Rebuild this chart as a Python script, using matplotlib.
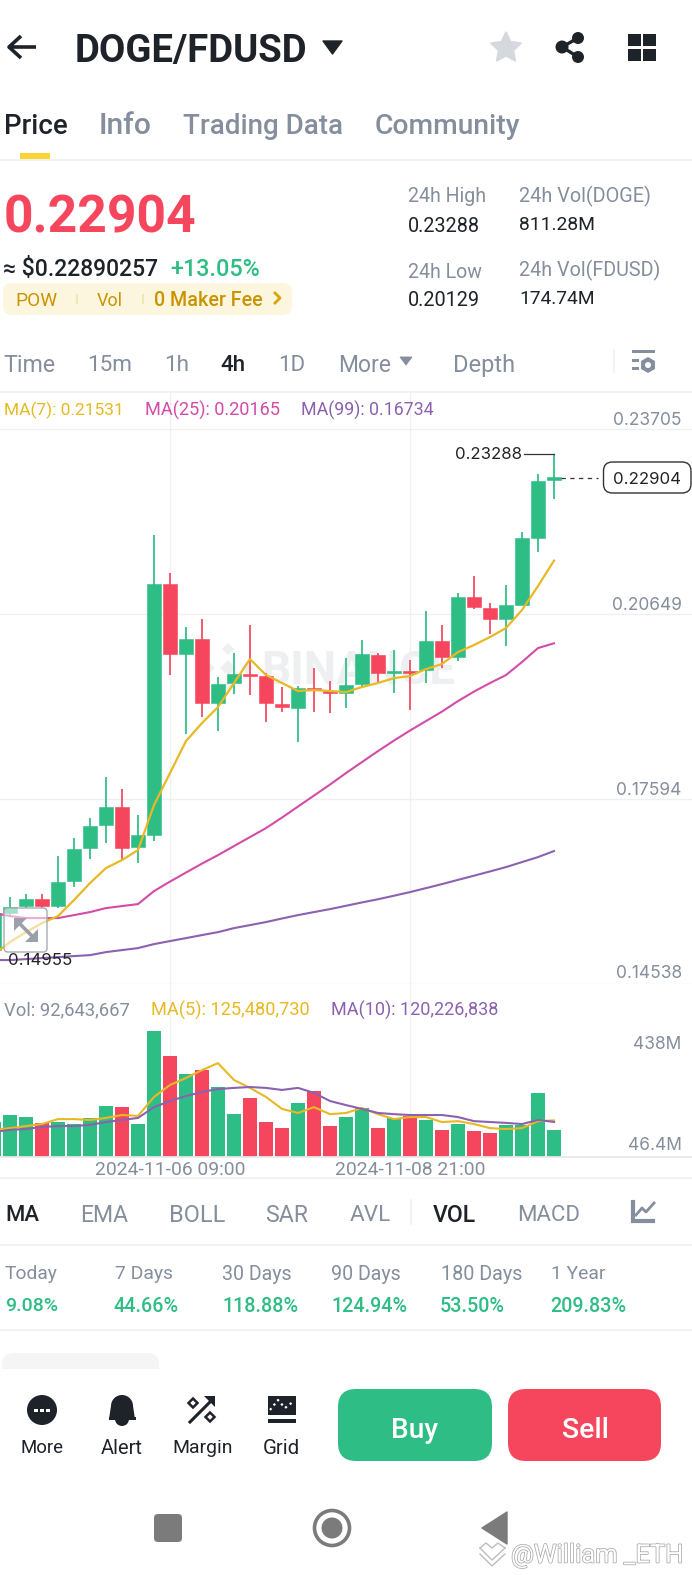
import matplotlib
matplotlib.use("Agg")
import matplotlib.pyplot as plt
import matplotlib.patches as mp
import matplotlib.patheffects as pe
from matplotlib.transforms import ScaledTranslation
import numpy as np

# ---- data ----
index = list(range(-1, 35))
opens = [.15098,.15709,.15825,.15941,.15825,.16238,.16783,.17163,.17460,.16800,.16998,.21144,.19988,.20236,.19178,
         .19509,.19658,.19624,.19162,.19096,.19426,.19377,.19344,.19492,.19971,.19674,.19707,.19724,.20203,.19938,
         .20930,.20748,.20566,.20797,.21904,.22862]
closes = [.15709,.15808,.15941,.15825,.16221,.16767,.17146,.17460,.16783,.16998,.21144,.19988,.20236,.19178,.19492,
          .19658,.19624,.19178,.19112,.19426,.19393,.19344,.19476,.19988,.19674,.19707,.19674,.20203,.19938,.20930,
          .20764,.20566,.20797,.21904,.22846,.22904]
highs = [.15841,.15974,.16023,.16023,.16651,.16948,.17279,.17956,.17758,.17328,.21954,.21326,.20434,.20566,.19608,
         .20004,.20467,.19674,.19443,.19459,.19757,.19542,.19922,.20219,.20004,.20054,.19889,.20698,.20467,.20996,
         .21276,.20830,.21128,.22003,.22962,.23288]
lows = [.14955,.15676,.15792,.15792,.15792,.16139,.16601,.16866,.16585,.16535,.16899,.19641,.18666,.18947,.18716,
        .19327,.19311,.18865,.19030,.18534,.19030,.19013,.19096,.19426,.19525,.19344,.19063,.19509,.19757,.19872,
        .20731,.20318,.20120,.20797,.21673,.22549]
ma7 = [.15032,.15230,.15395,.15544,.15660,.15924,.16205,.16453,.16585,.16750,.17493,.18022,.18551,.18848,.19112,
       .19509,.19905,.19641,.19509,.19377,.19393,.19377,.19360,.19443,.19509,.19591,.19624,.19740,.19823,.20021,
       .20137,.20269,.20417,.20715,.21111,.21531]
ma25 = [.15709,.15660,.15627,.15627,.15627,.15676,.15726,.15792,.15825,.15858,.16073,.16229,.16379,.16527,.16667,
        .16816,.16965,.17113,.17287,.17469,.17650,.17832,.18022,.18204,.18385,.18559,.18724,.18881,.19038,.19211,
        .19368,.19509,.19641,.19856,.20087,.20165]
ma99 = [.14933,.14933,.14949,.14966,.14982,.14999,.15015,.15065,.15098,.15131,.15197,.15247,.15296,.15346,.15395,
        .15461,.15511,.15561,.15620,.15676,.15726,.15775,.15830,.15885,.15938,.15996,.16056,.16122,.16188,.16258,
        .16327,.16397,.16469,.16552,.16634,.16734]
volumes = [120,144,137,117,120,113,134,175,172,113,432,346,285,298,240,147,202,120,99,185,226,106,137,168,99,134,141,
           127,93,113,89,82,110,110,220,92.6]
vol_ma5 = [93,99,106,113,130,130,127,134,144,141,206,247,271,298,322,264,237,206,165,151,171,147,151,168,147,130,137,
           137,120,123,113,99,96,99,123,125.5]
vol_ma10 = [86,93,96,103,106,106,110,120,127,134,171,192,209,223,233,237,240,237,230,237,220,192,178,165,151,147,144,
            144,144,137,123,120,117,113,127,120.2]
price_ticks = [0.23705, 0.20649, 0.17594, 0.14538]
vol_ticks = [438, 46.4]
date_ticks = [10, 25]
date_labels = ["2024-11-06 09:00", "2024-11-08 21:00"]
# -------------------------------------

GREEN, RED = "#2EBD85", "#F6465D"
GRAY, DARK = "#848E9C", "#1E2329"
YEL, PINK, PUR = "#E8B923", "#D24CA8", "#8A62B0"
LINE = "#EEF0F2"
W, H = 692, 1575
plt.rcParams["font.family"] = ["Roboto", "DejaVu Sans"]
fig = plt.figure(figsize=(W / 100, H / 100), dpi=100, facecolor="white")


def box(top, bottom):
    return [0, 1 - bottom / H, 1, (bottom - top) / H]


x_lim = (-0.625, 42.625)
ax = fig.add_axes(box(392, 984), facecolor="none", zorder=2)
vx = fig.add_axes(box(984, 1157), facecolor="none", zorder=2)
ui = fig.add_axes([0, 0, 1, 1], facecolor="none", zorder=5)
ui.set_xlim(0, W)
ui.set_ylim(H, 0)
ui.axis("off")

# ---- price pane
ax.set_xlim(*x_lim)
ax.set_ylim(0.14538, 0.24316)
for s in ax.spines.values():
    s.set_visible(False)
ax.set_axisbelow(True)
ax.grid(True, color=LINE, lw=1.0, zorder=0)
ax.set_xticks(date_ticks)
ax.tick_params(axis="x", length=0, labelbottom=False)
ax.yaxis.tick_right()
ax.set_yticks(price_ticks)
ax.set_yticklabels([f"{v:.5f}" for v in price_ticks], family="Inter", fontsize=12.5, color=GRAY)
ax.tick_params(axis="y", length=0, pad=-7.4)
for lab, dy in zip(ax.get_yticklabels(), [8.5, 8.5, 8.5, 11]):
    lab.set_ha("right")
    lab.set_va("center")
    lab.set_transform(lab.get_transform() + ScaledTranslation(0, dy / 100, fig.dpi_scale_trans))

# watermark
ax.text(358, 671, "BINANCE", transform=ui.transData, ha="center", va="center", fontsize=33,
        fontweight="bold", color="#EEEFF1", zorder=0.5)
for (cx, cy, r) in [(228, 668, 8), (228, 649, 6), (228, 687, 6), (209, 668, 6), (247, 668, 6)]:
    ax.add_patch(mp.Polygon([(cx, cy - r), (cx + r, cy), (cx, cy + r), (cx - r, cy)], closed=True,
                            transform=ui.transData, fc="#EEEFF1", ec="none", zorder=0.5))

o, c = np.array(opens), np.array(closes)
colors = [GREEN if b >= a else RED for a, b in zip(opens, closes)]
ax.vlines(index, lows, highs, colors=colors, lw=1.25, zorder=2)
ax.bar(index, np.abs(c - o), bottom=np.minimum(o, c), width=14 / 16, color=colors, edgecolor=colors, lw=0.4, zorder=2)
ax.plot(index, ma99, color=PUR, lw=1.5, zorder=3)
ax.plot(index, ma25, color=PINK, lw=1.5, zorder=3)
ax.plot(index, ma7, color=YEL, lw=1.6, zorder=3)

# ---- volume pane
vx.set_xlim(*x_lim)
vx.set_ylim(0, 593.4)
for k, s in vx.spines.items():
    s.set_visible(k == "bottom")
vx.spines["bottom"].set_color("#E6E8EA")
vx.spines["bottom"].set_linewidth(1.3)
vx.set_axisbelow(True)
vx.grid(True, axis="x", color=LINE, lw=1.0)
vx.set_xticks(date_ticks)
vx.set_xticklabels(date_labels, family="Roboto", fontsize=13.9, color=GRAY)
vx.tick_params(axis="x", length=0, pad=3)
vx.yaxis.tick_right()
vx.set_yticks(vol_ticks)
vx.set_yticklabels(["438M", "46.4M"], family="Inter", fontsize=12.5, color=GRAY)
vx.tick_params(axis="y", length=0, pad=-7.4)
for lab, dy in zip(vx.get_yticklabels(), [-15, -2]):
    lab.set_ha("right")
    lab.set_va("center")
    lab.set_transform(lab.get_transform() + ScaledTranslation(0, dy / 100, fig.dpi_scale_trans))
vx.bar(index, volumes, width=14 / 16, color=colors, lw=0, zorder=2)
vx.plot(index, vol_ma5, color=YEL, lw=1.5, zorder=3)
vx.plot(index, vol_ma10, color=PUR, lw=1.5, zorder=3)

# ---- UI chrome
renderer = fig.canvas.get_renderer()


def T(x0, x1, yc, s, color=GRAY, weight="normal", family="Roboto", **kw):
    t = ui.text(x0, yc, s, color=color, fontweight=weight, family=family, ha="left", va="center_baseline",
                fontsize=10, **kw)
    size = 10.0
    for _ in range(3):
        size *= (x1 - x0) / t.get_window_extent(renderer).width
        t.set_fontsize(size)
    return t


def HL(y, x0=0, x1=W, color=LINE, lw=1.2):
    ui.plot([x0, x1], [y, y], color=color, lw=lw, solid_capstyle="butt")


def RB(x0, y0, x1, y1, r, fc, ec="none", lw=0, zo=1):
    ui.add_patch(mp.FancyBboxPatch((x0, y0), x1 - x0, y1 - y0, boxstyle=f"round,pad=0,rounding_size={r}",
                                   fc=fc, ec=ec, lw=lw, zorder=zo))


# header
ui.plot([36, 9, 21], [47, 47, 36], color=DARK, lw=2.6, solid_capstyle="butt")
ui.plot([9, 21], [47, 58], color=DARK, lw=2.6, solid_capstyle="butt")
T(75, 307, 48, "DOGE/FDUSD", DARK, "bold")
ui.add_patch(mp.Polygon([(323, 41), (342, 41), (332.5, 54)], fc=DARK, ec=DARK, lw=1, joinstyle="round"))
ang = np.deg2rad(np.arange(-90, 270, 36))
rad = np.where(np.arange(10) % 2 == 0, 15.5, 7.5)
ui.add_patch(mp.Polygon(np.c_[506 + rad * np.cos(ang), 48 + rad * np.sin(ang)], fc="#D5D8DD", ec="#D5D8DD", lw=1.5,
                        joinstyle="round"))
for a, b in [((562, 47), (578, 38)), ((562, 47), (578, 57))]:
    ui.plot(*zip(a, b), color=DARK, lw=2.4)
for cx, cy, r in [(562, 47, 6.5), (578, 38, 6), (578, 57, 6)]:
    ui.add_patch(mp.Circle((cx, cy), r, fc=DARK, ec="none"))
for x0, y0 in [(628, 34), (643, 34), (628, 49), (643, 49)]:
    ui.add_patch(mp.Rectangle((x0, y0), 12.5, 12, fc=DARK, ec="none"))

# tabs
T(4, 68, 123, "Price", DARK, "medium")
T(99, 152, 123, "Info", GRAY, "medium")
T(183, 343, 123, "Trading Data", GRAY, "medium")
T(375, 521, 123, "Community", GRAY, "medium")
ui.add_patch(mp.Rectangle((20, 153), 30, 6, fc="#FCD535", ec="none"))
HL(159.5)

# price block
T(4, 197, 213, "0.22904", RED, "bold")
T(3, 158, 267, "≈ $0.22890257", DARK, "medium")
T(170, 260, 267, "+13.05%", GREEN, "medium")
RB(3, 283, 292, 315, 9, "#FDF6DF")
T(15, 57, 299, "POW", "#C99400")
T(97, 123, 299, "Vol", "#C99400")
T(154, 263, 299, "0 Maker Fee", "#C99400", "medium")
ui.plot([275, 280, 275], [293, 298, 303], color="#D9A40B", lw=2)
for xx in (77, 143):
    ui.plot([xx, xx], [295, 303], color="#F2E3A8", lw=1.2)
for x0, x1, y, s, col in [(408, 486, 195, "24h High", GRAY), (408, 480, 225, "0.23288", DARK),
                          (408, 482, 270, "24h Low", GRAY), (408, 480, 299, "0.20129", DARK),
                          (519, 650, 194, "24h Vol(DOGE)", GRAY), (519, 595, 223, "811.28M", DARK),
                          (519, 660, 268, "24h Vol(FDUSD)", GRAY), (519, 595, 297, "174.74M", DARK)]:
    T(x0, x1, y, s, col)

# interval bar
for x0, x1, s, col, wt in [(3, 55, "Time", GRAY, "normal"), (87, 132, "15m", GRAY, "normal"),
                           (164, 189, "1h", GRAY, "normal"), (220, 245, "4h", DARK, "medium"),
                           (278, 305, "1D", GRAY, "normal"), (338, 391, "More", GRAY, "normal"),
                           (453, 515, "Depth", GRAY, "normal")]:
    T(x0, x1, 363, s, col, wt)
ui.add_patch(mp.Polygon([(400, 357), (412, 357), (406, 365)], fc=GRAY, ec=GRAY, lw=0.6))
ui.plot([614, 614], [350, 372], color=LINE, lw=1.2)
ui.add_patch(mp.Rectangle((632, 350), 23, 3, fc=GRAY, ec="none"))
ui.add_patch(mp.Rectangle((632, 359), 7, 3, fc=GRAY, ec="none"))
ui.add_patch(mp.Rectangle((632, 367), 7, 3, fc=GRAY, ec="none"))
ui.add_patch(mp.RegularPolygon((648, 365), 6, radius=8, fc=GRAY, ec="none"))
ui.add_patch(mp.Circle((648, 365), 3, fc="white", ec="none"))
HL(392)

# moving-average legend
T(4, 124, 408, "MA(7): 0.21531", YEL)
T(145, 280, 408, "MA(25): 0.20165", PINK)
T(301, 433, 408, "MA(99): 0.16734", PUR)
T(4, 130, 1008, "Vol: 92,643,667", GRAY)
T(151, 310, 1008, "MA(5): 125,480,730", YEL)
T(331, 498, 1008, "MA(10): 120,226,838", PUR)

# last price tags
T(455, 522, 453, "0.23288", "#222", family="Inter")
ui.plot([524, 554], [454, 454], color="#333", lw=0.9)
ui.plot([561, 598], [477.5, 477.5], color="#333", lw=0.9, ls=(0, (3.5, 3.5)))
RB(603.5, 462, 691, 493, 9, "white", "#333", 1.0)
T(613, 681, 478, "0.22904", "#222", family="Inter")

# expand icon and low label
RB(4, 908, 47, 952, 4, (1, 1, 1, 0.55), "#A6ABB2", 1.0, zo=3)
for pts in [[(14, 918), (14, 931), (27, 918)], [(38, 942), (38, 929), (25, 942)]]:
    ui.add_patch(mp.Polygon(pts, fc="#9AA1AB", ec="none", zorder=4))
ui.plot([17, 35], [921, 939], color="#9AA1AB", lw=2.6, zorder=4)
T(8, 72, 959, "0.14955", "#222", family="Inter", zorder=4)

# indicator row
HL(1178)
for x0, x1, s, col, wt in [(5, 39, "MA", DARK, "medium"), (80, 128, "EMA", GRAY, "normal"),
                           (169, 225, "BOLL", GRAY, "normal"), (265, 308, "SAR", GRAY, "normal"),
                           (350, 391, "AVL", GRAY, "normal"), (433, 476, "VOL", DARK, "medium"),
                           (517, 580, "MACD", GRAY, "normal")]:
    T(x0, x1, 1213, s, col, wt)
ui.plot([411, 411], [1200, 1224], color=LINE, lw=1.2)
ui.plot([633, 633, 653], [1202, 1221, 1221], color=GRAY, lw=3, solid_joinstyle="miter")
ui.plot([636, 642, 646, 654], [1215, 1208, 1212, 1203], color=GRAY, lw=2)
HL(1245)

# performance row
for x0, x1, s in [(5, 58, "Today"), (115, 173, "7 Days"), (222, 292, "30 Days"), (331, 401, "90 Days"),
                  (441, 522, "180 Days"), (551, 606, "1 Year")]:
    T(x0, x1, 1272, s, GRAY)
for x0, x1, s in [(5, 58, "9.08%"), (113, 178, "44.66%"), (222, 298, "118.88%"), (331, 407, "124.94%"),
                  (440, 505, "53.50%"), (550, 626, "209.83%")]:
    T(x0, x1, 1304, s, GREEN, "medium")
HL(1330)
ui.add_patch(mp.FancyBboxPatch((2, 1353), 157, 30, boxstyle="round,pad=0,rounding_size=12", fc="#F5F5F5", ec="none",
                               zorder=0.5))
ui.add_patch(mp.Rectangle((0, 1369), W, 214, fc="white", ec="none", zorder=0.6))

# bottom actions
ui.add_patch(mp.Circle((42, 1410), 15, fc=DARK, ec="none"))
for xx in (36, 42, 48):
    ui.add_patch(mp.Rectangle((xx - 1.6, 1408.5), 3.2, 3.2, fc="white", ec="none"))
ui.add_patch(mp.Wedge((122, 1406), 11, 180, 360, fc=DARK, ec="none"))
ui.add_patch(mp.Polygon([(111, 1406), (133, 1406), (135, 1419), (109, 1419)], fc=DARK, ec="none"))
ui.add_patch(mp.Wedge((122, 1419), 7, 0, 180, fc=DARK, ec="none"))
ui.add_patch(mp.Rectangle((109, 1417), 27, 3, fc=DARK, ec="none"))
ui.plot([190, 212], [1422, 1400], color=DARK, lw=2.2)
ui.add_patch(mp.Polygon([(204, 1396), (215, 1396), (215, 1407)], fc=DARK, ec="none"))
ui.add_patch(mp.RegularPolygon((193, 1403), 4, radius=4.5, fc="none", ec=DARK, lw=1.8))
ui.add_patch(mp.RegularPolygon((210, 1417), 4, radius=4.5, fc="none", ec=DARK, lw=1.8))
ui.add_patch(mp.Polygon([(268, 1396), (296, 1396), (296, 1415), (268, 1415)], fc=DARK, ec="none"))
ui.plot([270, 278, 285, 294], [1410, 1400, 1408, 1401], color="white", lw=1.6, ls=":")
ui.add_patch(mp.Rectangle((268, 1419), 28, 4, fc=DARK, ec="none"))
for x0, x1, s in [(21, 64, "More"), (101, 143, "Alert"), (172, 232, "Margin"), (263, 300, "Grid")]:
    T(x0, x1, 1446, s, DARK)
RB(338, 1389, 492, 1461, 18, GREEN)
RB(508, 1389, 661, 1461, 18, RED)
T(391, 438, 1427, "Buy", "white", "medium")
T(562, 609, 1427, "Sell", "white", "medium")

# navigation bar
NAV = "#7B7B7B"
RB(154, 1514, 182, 1542, 4, NAV)
ui.add_patch(mp.Circle((332, 1528), 17.5, fc="none", ec=NAV, lw=2.6))
ui.add_patch(mp.Circle((332, 1528), 10.5, fc=NAV, ec="none"))
ui.add_patch(mp.Polygon([(507, 1512), (507, 1544), (482, 1528)], fc=NAV, ec=NAV, lw=1, joinstyle="round"))

# image watermark
wm = T(511, 684, 1553, "@William _ETH", "white", zorder=6)
wm.set_path_effects([pe.withStroke(linewidth=1.1, foreground="#A9A9A9")])
for dy, r in [(1552, 12), (1558, 12)]:
    ui.plot([480, 492, 505], [dy - 4, dy + r - 4, dy - 4], color="#BDBDBD", lw=1.0, zorder=6)
ui.plot([480, 486, 492, 498, 505], [1548, 1543, 1548, 1543, 1548], color="#BDBDBD", lw=1.0, zorder=6)

fig.savefig("out.png", dpi=100, facecolor="white")
